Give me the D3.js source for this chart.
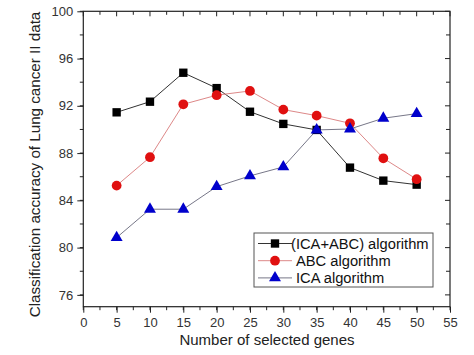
<!DOCTYPE html>
<html>
<head>
<meta charset="utf-8">
<script src="https://cdn.jsdelivr.net/npm/d3@7"></script>
<style>
  body { margin: 0; background: #fff; }
  text { font-family: Arial, "Liberation Sans", sans-serif; }
</style>
</head>
<body>
<svg id="chart" width="474" height="355"></svg>
<script>
'use strict';

const genes = [5, 10, 15, 20, 25, 30, 35, 40, 45, 50];
const icaAbc = [91.45, 92.35, 94.8, 93.5, 91.5, 90.47, 89.96, 86.77, 85.67, 85.33];
const abc = [85.25, 87.65, 92.13, 92.9, 93.26, 91.68, 91.17, 90.52, 87.56, 85.79];
const ica = [80.85, 83.25, 83.25, 85.16, 86.07, 86.83, 89.96, 90.04, 90.95, 91.34];
const seriesNames = ["(ICA+ABC) algorithm", "ABC algorithm", "ICA algorithm"];
const xTicks = [0, 5, 10, 15, 20, 25, 30, 35, 40, 45, 50, 55];
const yTicks = [76, 80, 84, 88, 92, 96, 100];

const LEFT = 83.3, RIGHT = 450, TOP = 11.3, BOTTOM = 306.7;

const svg = d3.select("#chart");

const x = d3.scaleLinear().domain([0, 55]).range([LEFT, RIGHT]);
const y = d3.scaleLinear().domain([75, 100]).range([BOTTOM, TOP]);

const series = [
    { name: seriesNames[0], values: icaAbc, line: "#333", fill: "#000", shape: d3.symbolSquare, size: 70 },
    { name: seriesNames[1], values: abc, line: "#d88", fill: "#e01010", shape: d3.symbolCircle, size: 75 },
    { name: seriesNames[2], values: ica, line: "#778", fill: "#0000cc", shape: d3.symbolTriangle, size: 62 }
];

// frame
svg.append("rect")
    .attr("x", LEFT).attr("y", TOP)
    .attr("width", RIGHT - LEFT).attr("height", BOTTOM - TOP)
    .attr("fill", "none").attr("stroke", "#222").attr("stroke-width", 1.2);

// axes
const minorX = d3.range(0, 55.1, 2.5);
const minorY = d3.range(76, 100.1, 2);

const bottomAxis = d3.axisBottom(x).tickValues(xTicks).tickSize(6).tickPadding(5);
const gx = svg.append("g").attr("transform", "translate(0," + BOTTOM + ")").call(bottomAxis);
gx.append("g").selectAll("line").data(minorX).enter().append("line")
    .attr("x1", d => x(d)).attr("x2", d => x(d)).attr("y1", 0).attr("y2", 3.5)
    .attr("stroke", "#222");

const leftAxis = d3.axisLeft(y).tickValues(yTicks).tickSize(6).tickPadding(4);
const gy = svg.append("g").attr("transform", "translate(" + LEFT + ",0)").call(leftAxis);
gy.append("g").selectAll("line").data(minorY).enter().append("line")
    .attr("y1", d => y(d)).attr("y2", d => y(d)).attr("x1", 0).attr("x2", -3.5)
    .attr("stroke", "#222");

// top & right inward ticks
svg.append("g").selectAll("line").data(minorX).enter().append("line")
    .attr("x1", d => x(d)).attr("x2", d => x(d))
    .attr("y1", TOP).attr("y2", d => TOP + (d % 5 === 0 ? 5 : 3.5))
    .attr("stroke", "#222");
svg.append("g").selectAll("line").data(minorY).enter().append("line")
    .attr("y1", d => y(d)).attr("y2", d => y(d))
    .attr("x1", RIGHT).attr("x2", d => RIGHT - (d % 4 === 0 ? 5 : 4))
    .attr("stroke", "#222");

svg.selectAll(".domain").remove();
svg.selectAll(".tick line").attr("stroke", "#222");
svg.selectAll(".tick text").attr("font-size", 13).attr("fill", "#333");

// axis titles
svg.append("text")
    .attr("x", 267).attr("y", 345)
    .attr("text-anchor", "middle").attr("font-size", 15).attr("fill", "#222")
    .text("Number of selected genes");
svg.append("text")
    .attr("transform", "translate(40,164.5) rotate(-90)")
    .attr("text-anchor", "middle").attr("font-size", 15.2).attr("fill", "#222")
    .text("Classification accuracy of Lung cancer II data");

// lines and markers
const line = d3.line().x((d, i) => x(genes[i])).y(d => y(d));
const symbol = d3.symbol();

series.forEach(s => {
    svg.append("path").datum(s.values)
        .attr("d", line).attr("fill", "none")
        .attr("stroke", s.line).attr("stroke-width", 1);
});
series.forEach(s => {
    svg.append("g").selectAll("path").data(s.values).enter().append("path")
        .attr("transform", (d, i) => "translate(" + x(genes[i]) + "," + y(d) + ")")
        .attr("d", symbol.type(s.shape).size(s.size)())
        .attr("fill", s.fill);
});

// legend
const legend = svg.append("g");
legend.append("rect")
    .attr("x", 254).attr("y", 233).attr("width", 179).attr("height", 54)
    .attr("fill", "#fff").attr("stroke", "#555").attr("stroke-width", 1);
series.forEach((s, i) => {
    const ly = 243.5 + i * 17.2;
    legend.append("line").attr("x1", 258).attr("x2", 292).attr("y1", ly).attr("y2", ly)
        .attr("stroke", s.line).attr("stroke-width", 1);
    legend.append("path")
        .attr("transform", "translate(275," + ly + ")")
        .attr("d", symbol.type(s.shape).size(s.size)())
        .attr("fill", s.fill);
    legend.append("text")
        .attr("x", i === 0 ? 291 : 296).attr("y", ly + 5.5)
        .attr("font-size", 14.7).attr("fill", "#111")
        .text(s.name);
});
</script>
</body>
</html>
